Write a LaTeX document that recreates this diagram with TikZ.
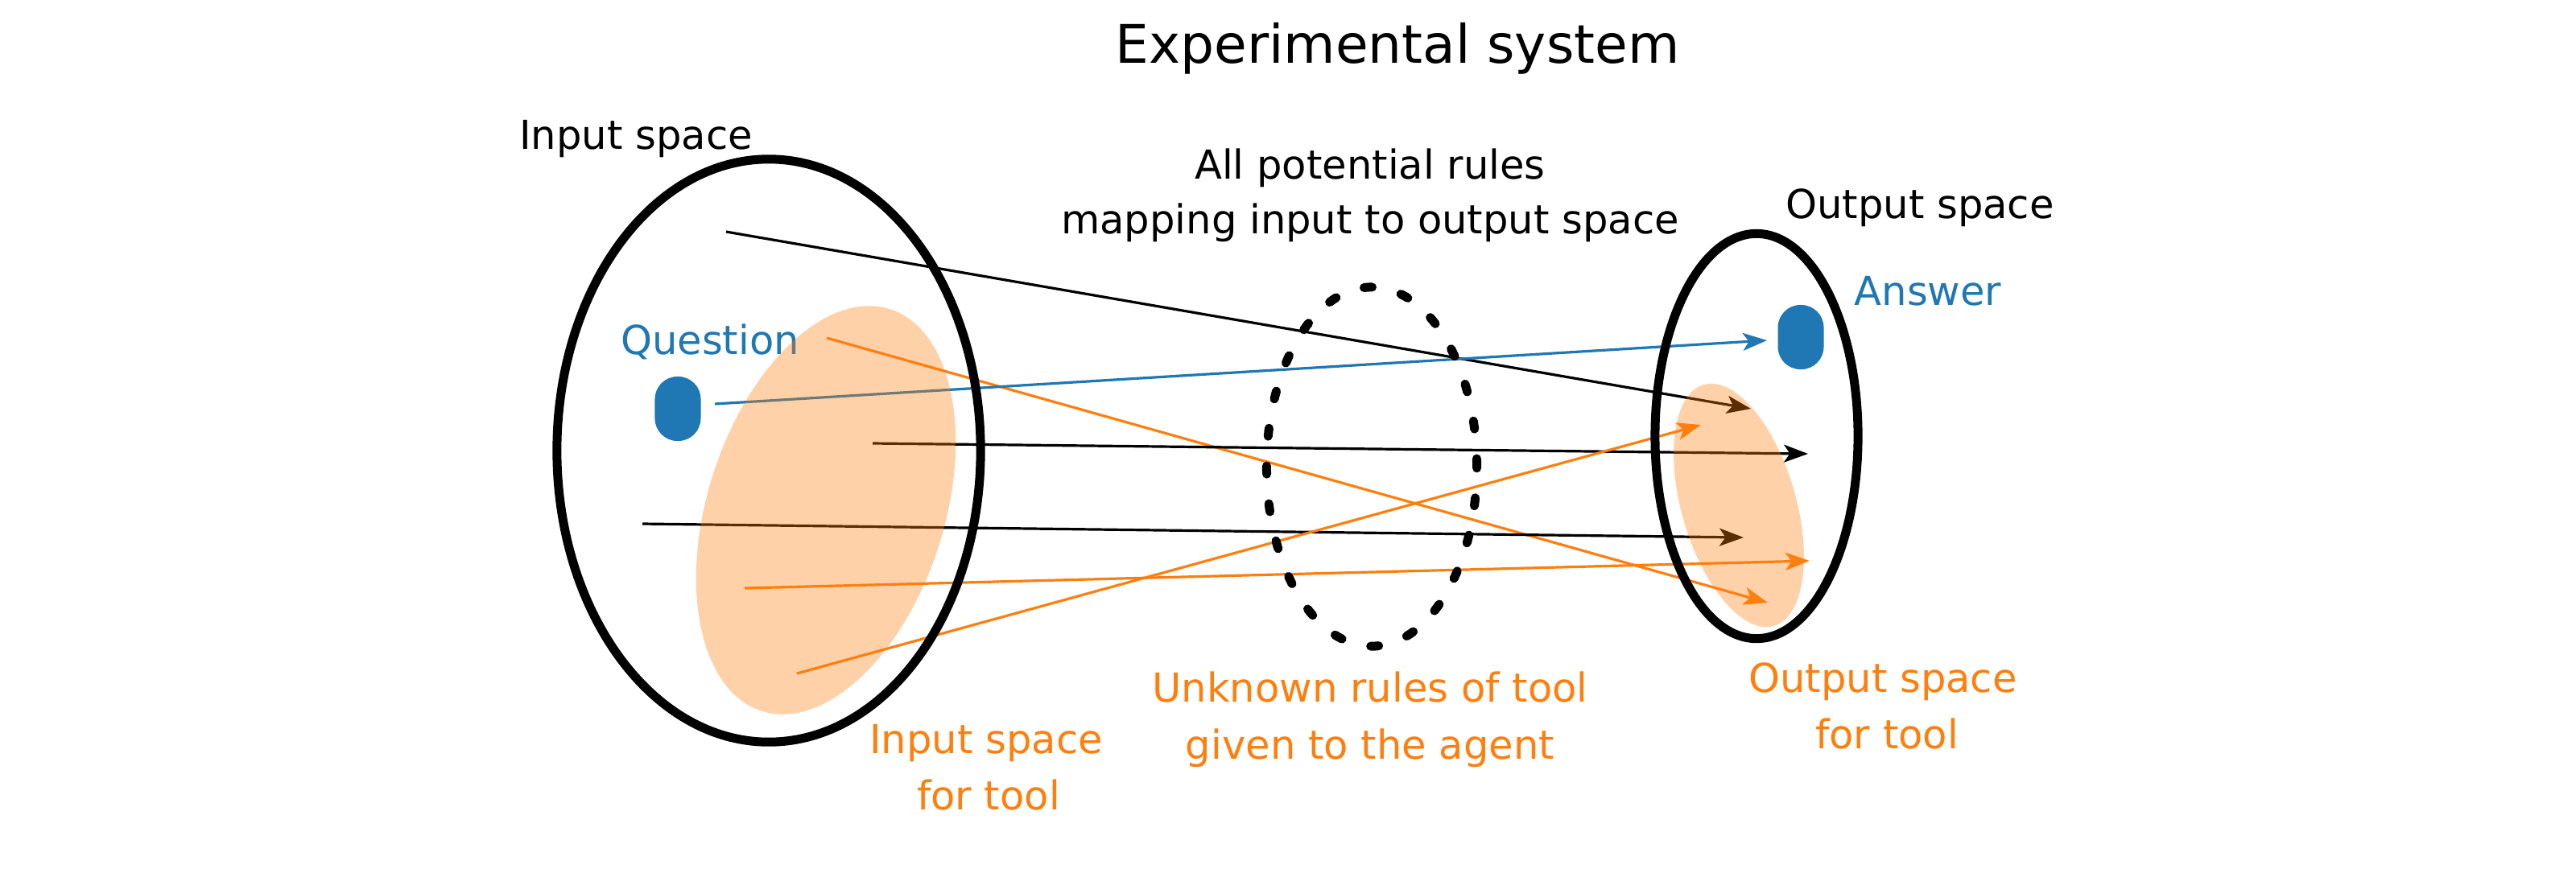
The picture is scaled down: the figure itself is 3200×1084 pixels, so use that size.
\documentclass[tikz,border=0pt]{standalone}
\usepackage{fontspec}
\setmainfont{DejaVu Sans}
\usetikzlibrary{arrows.meta,shapes.geometric}
\definecolor{tblue}{HTML}{1F77B4}
\definecolor{torange}{HTML}{FF7F0E}
\begin{document}
\begin{tikzpicture}[x=0.01cm,y=0.01cm,
  lab/.style={anchor=base,inner sep=0,font=\fontsize{14.1}{17}\selectfont},
  ttl/.style={anchor=base,inner sep=0,font=\fontsize{18.8}{22}\selectfont},
  ruleline/.style={line width=0.032cm},
  tipped/.style={ruleline,-{Stealth[length=0.3cm,width=0.22cm,inset=0.075cm]}},
  spaceout/.style={ellipse,draw=black,line width=0.11cm,inner sep=0,outer sep=0},
  peach/.style={ellipse,fill=torange,fill opacity=0.36,inner sep=0,outer sep=0},
  blob/.style={rectangle,fill=tblue,rounded corners=0.28cm,minimum width=0.57cm,minimum height=0.8cm,inner sep=0},
  dashedoval/.style={ellipse,draw=black,line width=0.11cm,line cap=round,dash pattern=on 0.1cm off 0.37cm,inner sep=0,outer sep=0}]
\useasboundingbox (0,0) rectangle (3200,-1084);

% texts
\node[ttl] (title) at (1736,-78) {Experimental system};
\node[lab] (inlab) at (790,-185) {Input space};
\node[lab] (rules1) at (1702,-222) {All potential rules};
\node[lab] (rules2) at (1702,-290) {mapping input to output space};
\node[lab] (outlab) at (2385,-271) {Output space};
\node[lab,text=tblue] (qlab) at (882,-440) {Question};
\node[lab,text=tblue] (alab) at (2395,-379) {Answer};
\node[lab,text=torange] (unk1) at (1702,-872) {Unknown rules of tool};
\node[lab,text=torange] (unk2) at (1702,-943) {given to the agent};
\node[lab,text=torange] (intool1) at (1225,-936) {Input space};
\node[lab,text=torange] (intool2) at (1228,-1006) {for tool};
\node[lab,text=torange] (outtool1) at (2339,-860) {Output space};
\node[lab,text=torange] (outtool2) at (2344,-930) {for tool};

% start and end points of the rules
\coordinate (s1) at (902,-288);   \coordinate (e1) at (2175,-508);
\coordinate (s2) at (1027,-420);  \coordinate (e2) at (2196,-749);
\coordinate (s3) at (888,-502);   \coordinate (e3) at (2195,-423);
\coordinate (s4) at (1084,-551);  \coordinate (e4) at (2246,-564);
\coordinate (s5) at (798,-651);   \coordinate (e5) at (2166,-668);
\coordinate (s6) at (925,-731);   \coordinate (e6) at (2248,-697);
\coordinate (s7) at (990,-837);   \coordinate (e7) at (2113,-528);

\draw[tipped,black] (s1) -- (e1);
\draw[tipped,torange] (s2) -- (e2);
\draw[tipped,tblue] (s3) -- (e3);
\draw[tipped,black] (s4) -- (e4);
\draw[tipped,black] (s5) -- (e5);
\draw[tipped,torange] (s6) -- (e6);
\draw[tipped,torange] (s7) -- (e7);

% tool regions
\node[peach,minimum width=2.94cm,minimum height=5.24cm,rotate=-17.7] (intool) at (1026,-634) {};
\node[peach,minimum width=1.42cm,minimum height=3.12cm,rotate=16.2] (outtool) at (2160,-628) {};

% spaces
\node[spaceout,minimum width=5.26cm,minimum height=7.24cm] (inspace) at (955,-560) {};
\node[spaceout,minimum width=2.52cm,minimum height=5.03cm] (outspace) at (2182,-542) {};
\node[dashedoval,minimum width=2.61cm,minimum height=4.46cm] (rules) at (1704,-580) {};

% question and answer
\node[blob] (question) at (842,-508) {};
\node[blob] (answer) at (2237,-419) {};
\end{tikzpicture}
\end{document}
